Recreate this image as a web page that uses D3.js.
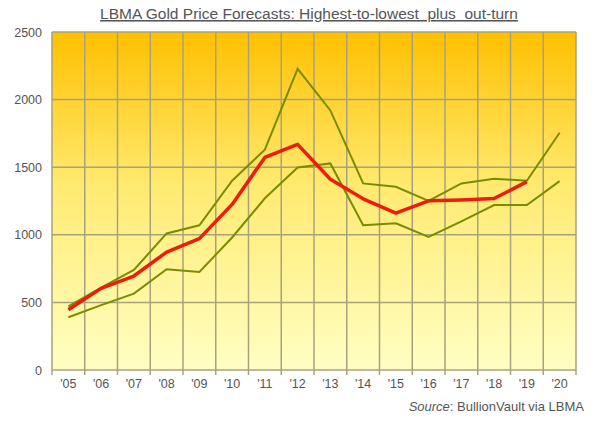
<!DOCTYPE html>
<html>
<head>
<meta charset="utf-8">
<script src="https://cdn.jsdelivr.net/npm/d3@7"></script>
<style>
body { margin: 0; background: #fff; }
text { font-family: Arial, "Liberation Sans", sans-serif; fill: #555; }
</style>
</head>
<body>
<script>
// Set height, width, margins
var w = 600;
var h = 422;
var margin = {top: 32, right: 24, bottom: 52, left: 52};

// Data
var years = ["'05", "'06", "'07", "'08", "'09", "'10", "'11", "'12",
             "'13", "'14", "'15", "'16", "'17", "'18", "'19", "'20"];
var highForecast = [470, 610, 740, 1010, 1070, 1400, 1630, 2228, 1920, 1380, 1355, 1250, 1380, 1415, 1400, 1755];
var lowForecast  = [390, 480, 565, 745, 725, 980, 1270, 1498, 1528, 1070, 1085, 985, 1100, 1220, 1220, 1397];
var outTurn      = [445, 604, 695, 872, 972, 1225, 1572, 1669, 1411, 1266, 1160, 1251, 1257, 1268, 1393];
var yTicks = [0, 500, 1000, 1500, 2000, 2500];

// Scales
var xBand = d3.scaleBand()
              .domain(years)
              .range([margin.left, w - margin.right]);
var yScale = d3.scaleLinear()
               .domain([0, 2500])
               .range([h - margin.bottom, margin.top]);

// SVG
var svg = d3.select("body")
            .append("svg")
            .attr("width", w)
            .attr("height", h);

// background gradient
var grad = svg.append("defs").append("linearGradient")
              .attr("id", "bg")
              .attr("x1", 0).attr("y1", 0).attr("x2", 0).attr("y2", 1);
grad.append("stop").attr("offset", "0%").attr("stop-color", "#ffc000");
grad.append("stop").attr("offset", "45%").attr("stop-color", "#ffea70");
grad.append("stop").attr("offset", "100%").attr("stop-color", "#ffffc4");

svg.append("rect")
   .attr("x", margin.left)
   .attr("y", margin.top)
   .attr("width", w - margin.left - margin.right)
   .attr("height", h - margin.top - margin.bottom)
   .attr("fill", "url(#bg)");

// Grid lines
var gridColor = "#a8a27c";
svg.append("g")
   .selectAll("line")
   .data(yTicks)
   .enter()
   .append("line")
   .attr("x1", margin.left)
   .attr("x2", w - margin.right)
   .attr("y1", function(d) { return yScale(d); })
   .attr("y2", function(d) { return yScale(d); })
   .attr("stroke", gridColor)
   .attr("stroke-width", 1.5);

var vLines = years.map(function(d) { return xBand(d); }).concat([w - margin.right]);
svg.append("g")
   .selectAll("line")
   .data(vLines)
   .enter()
   .append("line")
   .attr("x1", function(d) { return d; })
   .attr("x2", function(d) { return d; })
   .attr("y1", margin.top)
   .attr("y2", h - margin.bottom + 5)
   .attr("stroke", gridColor)
   .attr("stroke-width", 1.5);

// Y axis
var yAxis = d3.axisLeft(yScale)
              .tickValues(yTicks)
              .tickFormat(d3.format("d"))
              .tickSize(0)
              .tickPadding(10);
var gy = svg.append("g")
            .attr("transform", "translate(" + margin.left + ",0)")
            .call(yAxis);
gy.select(".domain").remove();
gy.selectAll("text").attr("font-size", "12.5px").style("fill", "#555");

// X axis
var xAxis = d3.axisBottom(xBand)
              .tickSize(0)
              .tickPadding(9);
var gx = svg.append("g")
            .attr("transform", "translate(0," + (h - margin.bottom) + ")")
            .call(xAxis);
gx.select(".domain").remove();
gx.selectAll("text").attr("font-size", "12.5px").style("fill", "#555");

// Lines
var line = d3.line()
             .x(function(d, i) { return xBand(years[i]) + xBand.bandwidth() / 2; })
             .y(function(d) { return yScale(d); });

svg.append("path")
   .datum(lowForecast)
   .attr("d", line)
   .attr("fill", "none")
   .attr("stroke", "#7a8c00")
   .attr("stroke-width", 2);

svg.append("path")
   .datum(highForecast)
   .attr("d", line)
   .attr("fill", "none")
   .attr("stroke", "#7a8c00")
   .attr("stroke-width", 2);

svg.append("path")
   .datum(outTurn)
   .attr("d", line)
   .attr("fill", "none")
   .attr("stroke", "#ee1c0c")
   .attr("stroke-width", 3.5)
   .attr("stroke-linejoin", "round");

// Title
svg.append("text")
   .attr("x", 309)
   .attr("y", 19)
   .attr("text-anchor", "middle")
   .attr("font-size", "15.5px")
   .style("text-decoration", "underline")
   .attr("xml:space", "preserve")
   .text("LBMA Gold Price Forecasts: Highest-to-lowest  plus  out-turn");

// Source
var src = svg.append("text")
             .attr("x", 584)
             .attr("y", 411)
             .attr("text-anchor", "end")
             .attr("font-size", "13px");
src.append("tspan").attr("font-style", "italic").text("Source");
src.append("tspan").text(": BullionVault via LBMA");
</script>
</body>
</html>
